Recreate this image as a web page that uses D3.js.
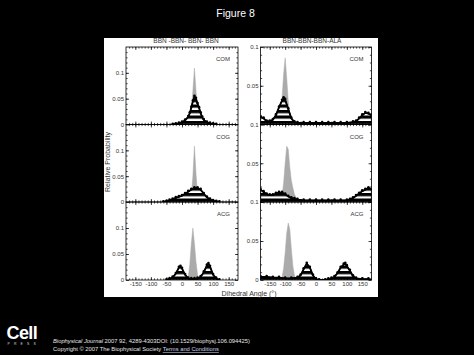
<!DOCTYPE html>
<html>
<head>
<meta charset="utf-8">
<script src="https://cdn.jsdelivr.net/npm/d3@7"></script>
<style>
  html, body { margin: 0; padding: 0; background: #000; }
  svg { display: block; font-family: "Liberation Sans", Arial, sans-serif; }
</style>
</head>
<body>
<script>
const WIDTH = 474;
const HEIGHT = 355;
const GRAY = "#ababab";

// labels
const columnTitles = ["BBN -BBN- BBN- BBN", "BBN-BBN-BBN-ALA"];
const rowLabels = ["COM", "COG", "ACG"];
const xTicks = [-150, -100, -50, 0, 50, 100, 150];
const yTicks = [0, 0.05, 0.1];

// left column (BBN-BBN-BBN-BBN), pairs of [angle, probability]
const grayBbnCom = [[20,0],[25,0.006],[30,0.025],[35,0.065],[40,0.109],[45,0.065],[50,0.025],[55,0.006],[60,0]];
const stripeBbnCom = [[-30,0],[-20,0.001],[-10,0.002],[0,0.004],[10,0.008],[20,0.015],[25,0.022],[30,0.033],[35,0.045],[40,0.054],[45,0.05],[50,0.04],[55,0.032],[60,0.022],[65,0.014],[70,0.009],[80,0.004],[90,0.002],[100,0.001],[110,0]];
const grayBbnCog = [[25,0],[30,0.012],[35,0.05],[40,0.108],[45,0.055],[50,0.015],[55,0.003],[60,0]];
const stripeBbnCog = [[-60,0],[-50,0.001],[-40,0.003],[-30,0.005],[-20,0.008],[-10,0.01],[0,0.012],[10,0.016],[20,0.02],[30,0.024],[40,0.027],[50,0.027],[60,0.024],[70,0.016],[80,0.009],[90,0.005],[100,0.002],[110,0.001],[120,0]];
const grayBbnAcg = [[15,0],[20,0.005],[25,0.03],[30,0.07],[35,0.1],[40,0.07],[45,0.035],[50,0.01],[55,0]];
const stripeBbnAcg = [[-50,0],[-40,0.002],[-30,0.005],[-20,0.012],[-10,0.024],[-5,0.026],[0,0.022],[10,0.01],[20,0.003],[30,0.002],[40,0.002],[50,0.003],[60,0.006],[70,0.015],[80,0.028],[85,0.031],[90,0.026],[100,0.01],[110,0.003],[120,0]];

// right column (BBN-BBN-BBN-ALA)
const grayAlaCom = [[-125,0],[-120,0.003],[-115,0.012],[-110,0.035],[-105,0.065],[-100,0.086],[-95,0.06],[-90,0.03],[-85,0.01],[-80,0.002],[-75,0]];
const stripeAlaCom = [[-180,0.01],[-170,0.008],[-160,0.004],[-150,0.004],[-140,0.006],[-130,0.012],[-120,0.022],[-110,0.031],[-105,0.034],[-100,0.032],[-90,0.02],[-80,0.008],[-70,0.003],[-60,0.002],[-40,0.002],[-20,0.002],[0,0.002],[20,0.002],[40,0.002],[60,0.002],[80,0.002],[100,0.002],[120,0.003],[130,0.004],[140,0.008],[150,0.012],[160,0.015],[170,0.014],[180,0.012]];
const grayAlaCog = [[-115,0],[-110,0.008],[-105,0.025],[-100,0.05],[-95,0.072],[-90,0.068],[-85,0.045],[-80,0.028],[-75,0.018],[-70,0.01],[-65,0.006],[-60,0.003],[-55,0]];
const stripeAlaCog = [[-180,0.016],[-170,0.013],[-160,0.01],[-150,0.009],[-140,0.009],[-130,0.011],[-120,0.012],[-110,0.012],[-100,0.01],[-90,0.007],[-80,0.005],[-70,0.004],[-60,0.003],[-40,0.002],[-20,0.002],[0,0.002],[20,0.002],[40,0.002],[60,0.002],[80,0.002],[100,0.002],[110,0.003],[120,0.005],[130,0.008],[140,0.011],[150,0.014],[160,0.016],[170,0.018],[180,0.016]];
const grayAlaAcg = [[-115,0],[-110,0.004],[-105,0.015],[-100,0.035],[-95,0.06],[-90,0.073],[-85,0.065],[-80,0.04],[-75,0.018],[-70,0.006],[-65,0.001],[-60,0]];
const stripeAlaAcg = [[-180,0.004],[-160,0.004],[-140,0.003],[-120,0.003],[-100,0.002],[-80,0.002],[-60,0.003],[-50,0.006],[-40,0.014],[-30,0.021],[-20,0.016],[-10,0.006],[0,0.001],[10,0],[30,0],[40,0.001],[50,0.002],[60,0.004],[70,0.009],[80,0.016],[90,0.02],[95,0.021],[100,0.018],[110,0.012],[120,0.005],[130,0.002],[150,0.001],[170,0.001],[180,0]];

const grays = [[grayBbnCom, grayBbnCog, grayBbnAcg], [grayAlaCom, grayAlaCog, grayAlaAcg]];
const stripes = [[stripeBbnCom, stripeBbnCog, stripeBbnAcg], [stripeAlaCom, stripeAlaCog, stripeAlaAcg]];

// layout
const COLUMNS = [
  {x0: 126, x1: 238, yMax: 0.15},
  {x0: 260.5, x1: 371.5, yMax: 0.1}
];
const ROWS = [47, 124.5, 202, 280];

const svg = d3.select("body").append("svg")
  .attr("width", WIDTH)
  .attr("height", HEIGHT);

svg.append("rect").attr("width", WIDTH).attr("height", HEIGHT).attr("fill", "#000");
svg.append("rect")
  .attr("x", 104).attr("y", 38)
  .attr("width", 274).attr("height", 259)
  .attr("fill", "#fff");

const defs = svg.append("defs");

//one panel of the figure
const drawPanel = (col, row) => {
  const c = COLUMNS[col];
  const x = d3.scaleLinear().domain([-180, 180]).range([c.x0, c.x1]);
  const y = d3.scaleLinear().domain([0, c.yMax]).range([ROWS[row + 1], ROWS[row]]);
  const id = "p" + col + row;

  defs.append("clipPath").attr("id", "clip" + id)
    .append("rect")
    .attr("x", c.x0).attr("y", ROWS[row])
    .attr("width", c.x1 - c.x0).attr("height", ROWS[row + 1] - ROWS[row]);

  const pat = defs.append("pattern")
    .attr("id", "stripe" + id)
    .attr("patternUnits", "userSpaceOnUse")
    .attr("x", 0).attr("y", y(0) - 3.5)
    .attr("width", 10).attr("height", 5.5);
  pat.append("rect").attr("width", 10).attr("height", 5.5).attr("fill", "#fff");
  pat.append("rect").attr("width", 10).attr("height", 3.2).attr("fill", "#000");

  const g = svg.append("g").attr("clip-path", "url(#clip" + id + ")");

  const area = d3.area().x(d => x(d[0])).y0(y(0)).y1(d => y(d[1]));
  const line = d3.line().x(d => x(d[0])).y(d => y(d[1]));

  g.append("path")
    .attr("d", area(grays[col][row]))
    .attr("fill", GRAY)
    .attr("stroke", GRAY)
    .attr("stroke-width", 0.5);

  const s = stripes[col][row];
  g.append("path")
    .attr("d", area(s))
    .attr("fill", "url(#stripe" + id + ")")
    .attr("stroke", "#000")
    .attr("stroke-width", 1.2);
  g.append("path")
    .attr("d", line(s))
    .attr("fill", "none")
    .attr("stroke", "#000")
    .attr("stroke-width", 1.8);
  g.selectAll("circle").data(s).enter().append("circle")
    .attr("cx", d => x(d[0]))
    .attr("cy", d => y(d[1]) - 0.8)
    .attr("r", 1.3)
    .attr("fill", "#000");

  // axes, ticks pointing inward
  const minorX = d3.range(-170, 180, 10);
  const minorY = d3.range(1, Math.round(c.yMax * 100)).map(v => v / 100);
  const bottomLabels = row === 2 ? (d => String(d)) : (() => "");
  const yLabel = d => (d === 0 ? (col === 0 || row === 2 ? "0" : "") : String(d));

  const axes = [
    [d3.axisBottom(x).tickValues(xTicks).tickSizeInner(-3).tickFormat(bottomLabels), "translate(0," + y(0) + ")"],
    [d3.axisBottom(x).tickValues(minorX).tickSizeInner(-1.6).tickFormat(""), "translate(0," + y(0) + ")"],
    [d3.axisTop(x).tickValues(xTicks).tickSizeInner(-3).tickFormat(""), "translate(0," + ROWS[row] + ")"],
    [d3.axisTop(x).tickValues(minorX).tickSizeInner(-1.6).tickFormat(""), "translate(0," + ROWS[row] + ")"],
    [d3.axisLeft(y).tickValues(yTicks).tickSizeInner(-3).tickFormat(yLabel), "translate(" + c.x0 + ",0)"],
    [d3.axisLeft(y).tickValues(minorY).tickSizeInner(-1.6).tickFormat(""), "translate(" + c.x0 + ",0)"],
    [d3.axisRight(y).tickValues(yTicks).tickSizeInner(-3).tickFormat(""), "translate(" + c.x1 + ",0)"],
    [d3.axisRight(y).tickValues(minorY).tickSizeInner(-1.6).tickFormat(""), "translate(" + c.x1 + ",0)"]
  ];
  axes.forEach(([ax, tr]) => {
    const a = svg.append("g").attr("transform", tr).call(ax.tickSizeOuter(0).tickPadding(2));
    a.select(".domain").remove();
    a.selectAll("line").attr("stroke", "#000").attr("stroke-width", 0.7);
    a.selectAll("text").attr("font-size", 6).attr("fill", "#333").attr("font-family", "Liberation Sans, Arial, sans-serif");
  });

  svg.append("rect")
    .attr("x", c.x0).attr("y", ROWS[row])
    .attr("width", c.x1 - c.x0).attr("height", ROWS[row + 1] - ROWS[row])
    .attr("fill", "none")
    .attr("stroke", "#000")
    .attr("stroke-width", 0.8);

  svg.append("text")
    .attr("x", c.x1 - 8).attr("y", ROWS[row] + 14)
    .attr("text-anchor", "end")
    .attr("font-size", 6)
    .attr("fill", "#333")
    .text(rowLabels[row]);
};

//all six panels
[0, 1].forEach(col => [0, 1, 2].forEach(row => drawPanel(col, row)));

//titles and axis names
svg.append("text").attr("x", 186).attr("y", 43).attr("text-anchor", "middle")
  .attr("font-size", 6.5).attr("fill", "#333").text(columnTitles[0]);
svg.append("text").attr("x", 312).attr("y", 43).attr("text-anchor", "middle")
  .attr("font-size", 6.5).attr("fill", "#333").text(columnTitles[1]);

svg.append("text")
  .attr("transform", "translate(110,162) rotate(-90)")
  .attr("text-anchor", "middle")
  .attr("font-size", 7).attr("fill", "#333")
  .text("Relative Probability");
svg.append("text")
  .attr("x", 249).attr("y", 295.5)
  .attr("text-anchor", "middle")
  .attr("font-size", 7).attr("fill", "#333")
  .text("Dihedral Angle (°)");

//slide header and footer
svg.append("text").attr("x", 235.5).attr("y", 16.5).attr("text-anchor", "middle")
  .attr("font-size", 10.5).attr("fill", "#fff").text("Figure 8");

svg.append("text").attr("x", 6.5).attr("y", 338.5)
  .attr("font-size", 18).attr("font-weight", "bold").attr("letter-spacing", -0.6)
  .attr("fill", "#fff").text("Cell");
svg.append("text").attr("x", 7.5).attr("y", 344.5)
  .attr("font-size", 3.4).attr("letter-spacing", 4.2)
  .attr("fill", "#ddd").text("PRESS");

const foot1 = svg.append("text").attr("x", 53).attr("y", 343)
  .attr("font-size", 5.8).attr("fill", "#e6e6e6");
foot1.append("tspan").attr("font-style", "italic").text("Biophysical Journal");
foot1.append("tspan").text(" 2007 92, 4289-4303DOI: (10.1529/biophysj.106.094425)");

const foot2 = svg.append("text").attr("x", 53).attr("y", 351)
  .attr("font-size", 5.8).attr("fill", "#e6e6e6");
foot2.append("tspan").text("Copyright © 2007 The Biophysical Society ");
foot2.append("tspan").attr("fill", "#c9d3ee").attr("text-decoration", "underline").text("Terms and Conditions");
</script>
</body>
</html>
